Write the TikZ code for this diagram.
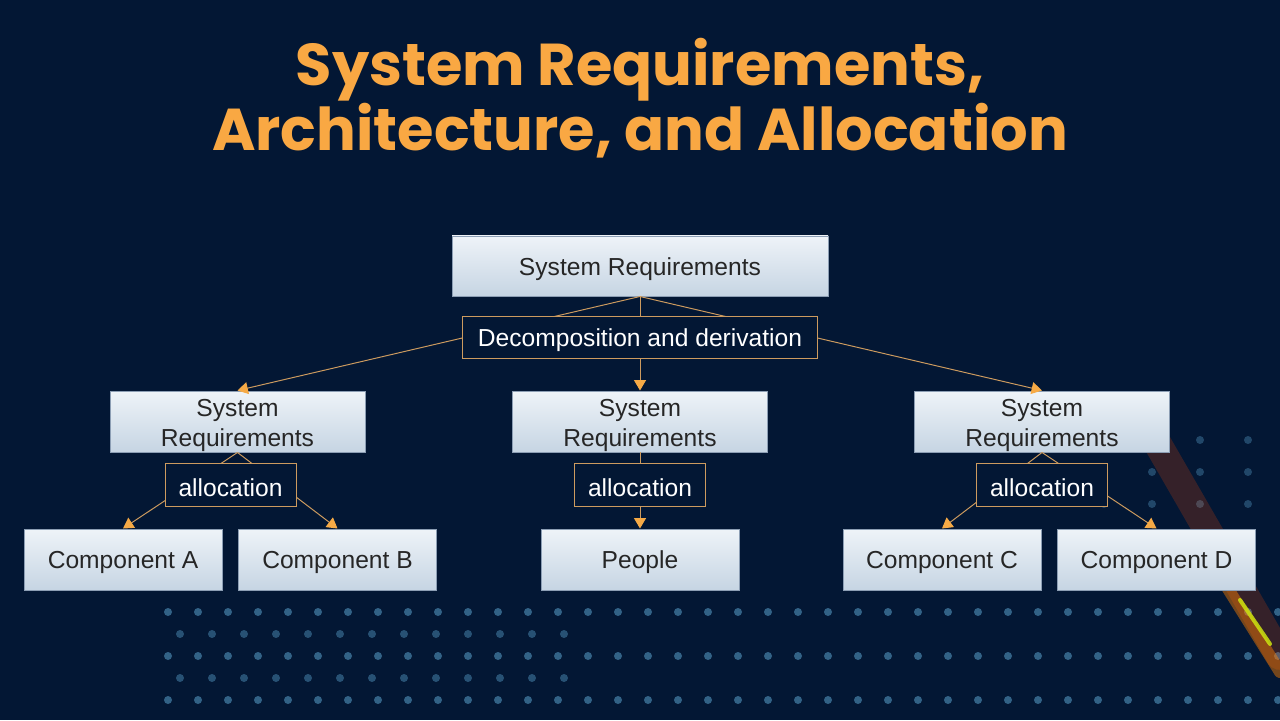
\documentclass[tikz,border=0pt]{standalone}
\usepackage{fontspec}
\setmainfont{Liberation Sans}
\newfontfamily\titlefont{Poppins}
\usetikzlibrary{arrows.meta}

\definecolor{slidebg}{RGB}{3,23,52}
\definecolor{titleor}{RGB}{249,168,67}
\definecolor{linkor}{RGB}{205,155,95}
\definecolor{tipor}{RGB}{246,170,70}
\definecolor{boxtop}{RGB}{238,243,248}
\definecolor{boxbot}{RGB}{198,213,227}
\definecolor{boxrim}{RGB}{140,158,180}
\definecolor{dotblue}{RGB}{70,130,170}

\begin{document}
\begin{tikzpicture}[
    reqbox/.style={rectangle, draw=boxrim, line width=0.7pt, top color=boxtop, bottom color=boxbot, inner sep=0pt, font=\fontsize{17.5}{21}\selectfont, text=black!85, execute at begin node={\rule{0pt}{17pt}}},
    reqtext/.style={align=center, font=\fontsize{17.5}{21}\selectfont, text=black!85, yshift=-0.1cm},
    labelbox/.style={rectangle, draw=linkor, line width=0.7pt, fill=slidebg, text=white, inner sep=0pt, font=\fontsize{17.5}{21}\selectfont, execute at begin node={\rule{0pt}{17pt}}},
    link/.style={draw=linkor, line width=0.7pt, -{Triangle[length=0.26cm, width=0.3cm, color=tipor]}}
]

% Background
\fill[slidebg] (0,0) rectangle (32,18);
\useasboundingbox (0,0) rectangle (32,18);

% Dots
\foreach \y in {2.7, 1.6, 0.5}
  \foreach \x in {0,...,37}
    \fill[dotblue, opacity=0.7] ({4.2+\x*0.75}, \y) circle (0.1);
\foreach \y in {2.15, 1.05}
  \foreach \x in {0,...,12}
    \fill[dotblue, opacity=0.55] ({4.5+\x*0.8}, \y) circle (0.1);
\foreach \y in {4.6,5.4,6.2,7.0}
  \foreach \x in {27.6,28.8,...,31.8}
    \fill[dotblue, opacity=0.45] (\x, \y) circle (0.1);

% Glow
\draw[orange!60!red, line width=0.7cm, opacity=0.2, line cap=round] (28.6,7.5) -- (32,1.6);
\draw[orange, line width=0.3cm, opacity=0.45, line cap=round] (30.0,4.4) -- (32,1.2);
\draw[yellow!80!green, line width=0.1cm, opacity=0.85, line cap=round] (31.0,3.0) -- (31.75,1.9);

% Title
\node[font=\titlefont\bfseries\fontsize{42}{46}\selectfont, text=titleor, align=center] (title) at (16, 15.55) {System Requirements,\\Architecture, and Allocation};

% Boxes
\node[reqbox, minimum width=9.4cm, minimum height=1.5cm] (top) at (16, 11.35) {System Requirements};

\node[reqbox, minimum width=6.375cm, minimum height=1.525cm, label={[reqtext]center:System\\Requirements}] (subL) at (5.9375, 7.4625) {};
\node[reqbox, minimum width=6.375cm, minimum height=1.525cm, label={[reqtext]center:System\\Requirements}] (subM) at (16, 7.4625) {};
\node[reqbox, minimum width=6.375cm, minimum height=1.525cm, label={[reqtext]center:System\\Requirements}] (subR) at (26.05, 7.4625) {};

\node[reqbox, minimum width=4.95cm, minimum height=1.525cm] (compA) at (3.075, 4.0125) {Component A};
\node[reqbox, minimum width=4.95cm, minimum height=1.525cm] (compB) at (8.4375, 4.0125) {Component B};
\node[reqbox, minimum width=4.95cm, minimum height=1.525cm] (people) at (16, 4.0125) {People};
\node[reqbox, minimum width=4.95cm, minimum height=1.525cm] (compC) at (23.55, 4.0125) {Component C};
\node[reqbox, minimum width=4.95cm, minimum height=1.525cm] (compD) at (28.9125, 4.0125) {Component D};

% Links
\draw[link] (top.south) -- (subL.north);
\draw[link] (top.south) -- (subM.north);
\draw[link] (top.south) -- (subR.north);

\draw[link] (subL.south) -- (compA.north);
\draw[link] (subL.south) -- (compB.north);
\draw[link] (subM.south) -- (people.north);
\draw[link] (subR.south) -- (compC.north);
\draw[link] (subR.south) -- (compD.north);

% Labels
\node[labelbox, minimum width=8.875cm, minimum height=1.05cm] (decomp) at (16, 9.575) {Decomposition and derivation};
\node[labelbox, minimum width=3.275cm, minimum height=1.075cm] (allocL) at (5.7625, 5.8875) {allocation};
\node[labelbox, minimum width=3.275cm, minimum height=1.075cm] (allocM) at (16, 5.8875) {allocation};
\node[labelbox, minimum width=3.275cm, minimum height=1.075cm] (allocR) at (26.05, 5.8875) {allocation};

\end{tikzpicture}
\end{document}
